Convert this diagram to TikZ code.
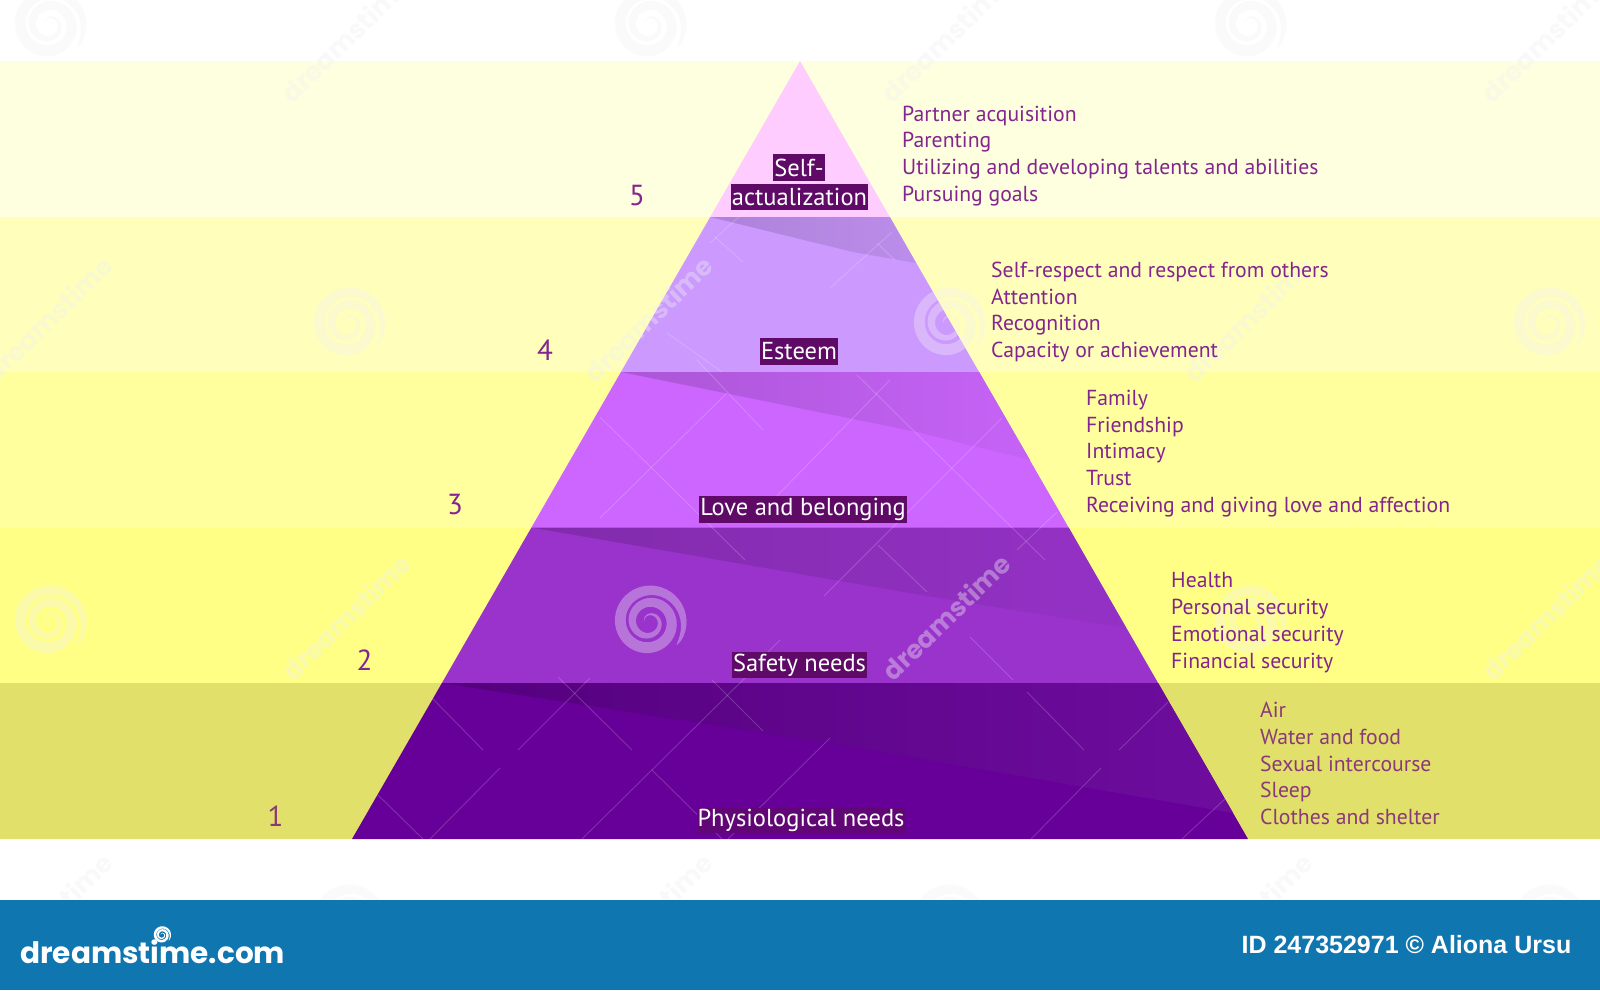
\documentclass[tikz,border=0pt]{standalone}
\usepackage{fontspec}
\setmainfont{PT Sans}
\newfontfamily\idfont{Liberation Sans}
\newfontfamily\wmfont{Poppins}
\usetikzlibrary{calc}
\definecolor{bandA}{HTML}{FEFFDE}
\definecolor{bandB}{HTML}{FFFFBB}
\definecolor{bandC}{HTML}{FFFF9E}
\definecolor{bandD}{HTML}{FFFF85}
\definecolor{bandE}{HTML}{E0E06B}
\definecolor{pyrA}{HTML}{FFCCFF}
\definecolor{pyrB}{HTML}{CC99FF}
\definecolor{pyrC}{HTML}{CC66FF}
\definecolor{pyrD}{HTML}{9933CC}
\definecolor{pyrE}{HTML}{660099}
\definecolor{boxc}{HTML}{5E0A66}
\definecolor{listc}{HTML}{84258F}
\definecolor{listo}{HTML}{8A3A78}
\definecolor{footc}{HTML}{0F76B0}
\tikzset{
  declare function={spr(\u)=36*(1-0.87*\u); spw(\u)=11*sin(180*pow(\u,0.55)); spa(\u)=-40+936*\u;},
  tierlabel/.style={fill=boxc,text=white,font=\fontsize{24.5}{27}\selectfont,inner xsep=1pt,inner ysep=0pt,minimum height=26.5pt},
  listtext/.style={text=listc,font=\fontsize{21.7}{26.85}\selectfont,align=left,anchor=west,inner sep=0pt},
  numlabel/.style={text=listc,font=\fontsize{29}{30}\selectfont,inner sep=0pt},
  wmline/.style={draw=white,draw opacity=0.18,line width=0.9pt},
  wmwhite/.style={fill=white,fill opacity=0.33},
  wmgrey/.style={fill=black,fill opacity=0.025},
}
\newcommand{\wmspiral}[3]{\fill[#3,shift={(#1,#2)}]
  plot[domain=0:1,samples=110] ({(spr(\x)+spw(\x)/2)*cos(spa(\x))},{-(spr(\x)+spw(\x)/2)*sin(spa(\x))})
  -- plot[domain=1:0,samples=110] ({(spr(\x)-spw(\x)/2)*cos(spa(\x))},{-(spr(\x)-spw(\x)/2)*sin(spa(\x))}) -- cycle;}
\newcommand{\wmboth}[2]{\wmspiral{#1}{#2}{wmgrey}\wmspiral{#1}{#2}{wmwhite}}
\newcommand{\wmname}[3]{\node[rotate=44,inner sep=0pt,text=black,text opacity=0.03,font=\wmfont\bfseries\fontsize{26}{26}\selectfont] (#3g) at (#1,#2) {dreamstime};
  \node[rotate=44,inner sep=0pt,text=white,text opacity=0.36,font=\wmfont\bfseries\fontsize{26}{26}\selectfont] (#3) at (#1,#2) {dreamstime};}
\begin{document}
\begin{tikzpicture}[x=1pt,y=-1pt]
\useasboundingbox (0,0) rectangle (1600,990);
\fill[white] (0,0) rectangle (1600,990);
% bands
\fill[bandA] (0,61) rectangle (1600,217);
\fill[bandB] (0,217) rectangle (1600,372);
\fill[bandC] (0,372) rectangle (1600,527.5);
\fill[bandD] (0,527.5) rectangle (1600,683);
\fill[bandE] (0,683) rectangle (1600,839);
% pyramid tiers
\fill[pyrA] (800,61) -- (889.8,217) -- (710.2,217) -- cycle;
\fill[pyrB] (710.2,217) -- (889.8,217) -- (979.1,372) -- (620.9,372) -- cycle;
\fill[pyrC] (620.9,372) -- (979.1,372) -- (1068.6,527.5) -- (531.4,527.5) -- cycle;
\fill[pyrD] (531.4,527.5) -- (1068.6,527.5) -- (1158.1,683) -- (441.9,683) -- cycle;
\fill[pyrE] (441.9,683) -- (1158.1,683) -- (1248,839) -- (352,839) -- cycle;
% shadow wedges
\shade[left color=pyrB!85!black,right color=pyrB!92!black] (710.2,217) -- (889.8,217) -- (916,263) -- (853,252) -- cycle;
\shade[left color=pyrC!84!black,right color=pyrC!97!black] (620.9,372) -- (979.1,372) -- (1030,460) -- (917,432) -- cycle;
\shade[left color=pyrD!84!black,right color=pyrD!97!black] (531.4,527.5) -- (1068.6,527.5) -- (1126,628) -- (933,597) -- cycle;
\shade[left color=pyrE!82!black,right color=pyrE!95!white] (441.9,683) -- (1158.1,683) -- (1233,813) -- (830,743) -- cycle;
% watermark
\begin{scope}
\clip (0,0) rectangle (1600,900);
\foreach \ax/\ay/\bx/\by in {
 600/518/727/393, 773/500/890/380, 824/596/1002/418, 1017/550/1057/512,
 600/417/745/560, 857/375/1045/560, 697/360/763/430, 878/545/927/592, 970/637/1013/680,
 432/698/483/750, 518/750/590/678, 558/677/632/750, 582/839/747/676, 712/680/763/731,
 652/770/722/839, 430/839/500/768, 378/795/423/839, 728/839/830/738,
 1027/692/1084/750, 1119/750/1168/702, 1031/839/1101/768, 1182/839/1226/798,
 830/288/892/232, 877/243/895/260, 710/243/750/207, 715/237/743/262, 667/333/722/372, 747/673/780/640}
 {\draw[wmline] (\ax,\ay) -- (\bx,\by);}
\foreach \sx/\sy in {49/25,649/25,1249/25,348/324,948/324,1548/324,49/622,649/622,1249/622,348/921,948/921,1548/921}
 {\wmboth{\sx}{\sy}}
\wmname{345}{39}{wmA}
\wmname{945}{39}{wmB}
\wmname{1545}{39}{wmC}
\wmname{48}{319}{wmD}
\wmname{648}{319}{wmE}
\wmname{1248}{319}{wmF}
\wmname{346}{617}{wmG}
\wmname{946}{617}{wmH}
\wmname{1546}{617}{wmI}
\wmname{48}{916}{wmJ}
\wmname{648}{916}{wmK}
\wmname{1248}{916}{wmL}
\end{scope}
% tier labels
\node[tierlabel] (selfa) at (799,167.5) {Self-};
\node[tierlabel] (selfb) at (799.5,197) {actualization};
\node[tierlabel] (esteem) at (799,351.5) {Esteem};
\node[tierlabel] (love) at (803,509.5) {Love and belonging};
\node[tierlabel] (safety) at (799.5,665) {Safety needs};
\node[tierlabel,fill=boxc!70!pyrE,minimum height=25pt] (physio) at (801,820.5) {Physiological needs};
% lists
\node[listtext] (listA) at (902,156) {Partner acquisition\\Parenting\\Utilizing and developing talents and abilities\\Pursuing goals};
\node[listtext] (listB) at (991,312) {Self-respect and respect from others\\Attention\\Recognition\\Capacity or achievement};
\node[listtext] (listC) at (1086,453.5) {Family\\Friendship\\Intimacy\\Trust\\Receiving and giving love and affection};
\node[listtext] (listD) at (1171,622.5) {Health\\Personal security\\Emotional security\\Financial security};
\node[listtext,text=listo] (listE) at (1260,763.5) {Air\\Water and food\\Sexual intercourse\\Sleep\\Clothes and shelter};
% numbers
\node[numlabel] (n5) at (637,196) {5};
\node[numlabel] (n4) at (545,350) {4};
\node[numlabel] (n3) at (455,505) {3};
\node[numlabel] (n2) at (364.5,660) {2};
\node[numlabel,text=listo] (n1) at (275.5,816) {1};
% footer
\fill[footc] (0,900) rectangle (1600,990);
\node[anchor=base west,inner sep=0pt,text=white,font=\wmfont\bfseries\fontsize{29.5}{33}\selectfont] (logo) at (20,963) {dreamstime.com};
\begin{scope}[shift={(162,935)},scale=0.24]
\fill[white] plot[domain=0:1,samples=80] ({(spr(\x)+spw(\x)/2)*cos(spa(\x))},{-(spr(\x)+spw(\x)/2)*sin(spa(\x))})
  -- plot[domain=1:0,samples=80] ({(spr(\x)-spw(\x)/2)*cos(spa(\x))},{-(spr(\x)-spw(\x)/2)*sin(spa(\x))}) -- cycle;
\end{scope}
\node[anchor=base east,inner sep=0pt,text=white,font=\idfont\bfseries\fontsize{25}{26}\selectfont] (idtext) at (1571.5,953) {ID 247352971 © Aliona Ursu};
\end{tikzpicture}
\end{document}
